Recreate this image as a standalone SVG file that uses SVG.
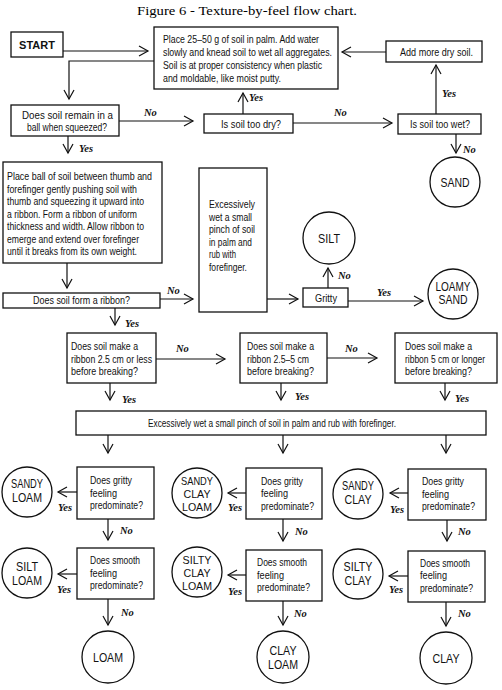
<svg xmlns="http://www.w3.org/2000/svg" width="502" height="690" viewBox="0 0 502 690">
<style>
.bx{fill:#fff;stroke:#111;stroke-width:1.3}
.ci{fill:#fff;stroke:#111;stroke-width:1.3}
.t{font-family:"Liberation Sans",Arial,sans-serif;font-size:11px;fill:#111}
.tc{font-family:"Liberation Sans",Arial,sans-serif;font-size:12.5px;fill:#111;text-anchor:middle}
.tc3{font-family:"Liberation Sans",Arial,sans-serif;font-size:11px;fill:#111;text-anchor:middle}
.yn{font-family:"Liberation Serif","Times New Roman",serif;font-size:10.5px;font-weight:bold;font-style:italic;fill:#111}
.ln{fill:none;stroke:#111;stroke-width:1.2;marker-end:url(#ah)}
.title{font-family:"Liberation Serif","Times New Roman",serif;font-size:13px;fill:#000}
</style>
<defs>
<marker id="ah" markerUnits="userSpaceOnUse" markerWidth="12" markerHeight="12" refX="10" refY="6" orient="auto">
<path d="M1,1 L10,6 L1,11" fill="none" stroke="#111" stroke-width="1.2"/>
</marker>
</defs>
<rect width="502" height="690" fill="#fff"/>
<text class="title" x="137" y="15" textLength="220" lengthAdjust="spacingAndGlyphs">Figure 6 - Texture-by-feel flow chart.</text>

<g id="connectors">
<path class="ln" d="M63,51 H148"/>
<path class="ln" d="M154,61 H69 V99"/>
<path class="ln" d="M119,121 H193"/>
<path class="ln" d="M243,114 V93"/>
<path class="ln" d="M293,123 H392"/>
<path class="ln" d="M436,114 V65"/>
<path class="ln" d="M386,52 H342"/>
<path class="ln" d="M456,134 V153"/>
<path class="ln" d="M68,136 V153"/>
<path class="ln" d="M67,263 V288"/>
<path class="ln" d="M160,299 H193"/>
<path class="ln" d="M267,299 H298"/>
<path class="ln" d="M328,288 V268"/>
<path class="ln" d="M348,301 H423"/>
<path class="ln" d="M115,308 V325"/>
<path class="ln" d="M156,359 H225"/>
<path class="ln" d="M327,358 H377"/>
<path class="ln" d="M110,383 V400"/>
<path class="ln" d="M281,383 V400"/>
<path class="ln" d="M445,383 V400"/>
<path class="ln" d="M108,435 V453"/>
<path class="ln" d="M283,435 V453"/>
<path class="ln" d="M446,435 V453"/>
<path class="ln" d="M77,492 H58"/>
<path class="ln" d="M246,493 H228"/>
<path class="ln" d="M408,493 H390"/>
<path class="ln" d="M108,519 V540"/>
<path class="ln" d="M283,519 V541"/>
<path class="ln" d="M447,520 V541"/>
<path class="ln" d="M77,574 H58"/>
<path class="ln" d="M246,575 H228"/>
<path class="ln" d="M408,576 H389"/>
<path class="ln" d="M108,599 V625"/>
<path class="ln" d="M283,601 V625"/>
<path class="ln" d="M446,602 V626"/>
<text class="yn" x="144" y="116">No</text>
<text class="yn" x="249" y="101">Yes</text>
<text class="yn" x="334" y="116">No</text>
<text class="yn" x="442" y="97">Yes</text>
<text class="yn" x="463" y="153">No</text>
<text class="yn" x="79" y="152">Yes</text>
<text class="yn" x="167" y="294">No</text>
<text class="yn" x="338" y="279">No</text>
<text class="yn" x="377" y="296">Yes</text>
<text class="yn" x="125" y="327">Yes</text>
<text class="yn" x="176" y="352">No</text>
<text class="yn" x="345" y="352">No</text>
<text class="yn" x="122" y="403">Yes</text>
<text class="yn" x="295" y="400">Yes</text>
<text class="yn" x="455" y="402">Yes</text>
<text class="yn" x="58" y="511">Yes</text>
<text class="yn" x="228" y="511">Yes</text>
<text class="yn" x="390" y="513">Yes</text>
<text class="yn" x="120" y="534">No</text>
<text class="yn" x="295" y="535">No</text>
<text class="yn" x="458" y="535">No</text>
<text class="yn" x="57" y="593">Yes</text>
<text class="yn" x="228" y="595">Yes</text>
<text class="yn" x="389" y="593">Yes</text>
<text class="yn" x="121" y="616">No</text>
<text class="yn" x="294" y="617">No</text>
<text class="yn" x="458" y="617">No</text>
</g>

<g id="start">
<rect class="bx" x="11" y="32" width="52" height="25" stroke-width="2"/>
<text class="t" x="37" y="49" text-anchor="middle" font-weight="bold" font-size="12">START</text>
</g>

<g id="place">
<rect class="bx" x="154" y="27" width="184" height="62"/>
<text class="t" x="163" y="43" textLength="156" lengthAdjust="spacingAndGlyphs">Place 25–50 g of soil in palm. Add water</text>
<text class="t" x="163" y="56" textLength="169" lengthAdjust="spacingAndGlyphs">slowly and knead soil to wet all aggregates.</text>
<text class="t" x="163" y="69" textLength="159" lengthAdjust="spacingAndGlyphs">Soil is at proper consistency when plastic</text>
<text class="t" x="163" y="82" textLength="118" lengthAdjust="spacingAndGlyphs">and moldable, like moist putty.</text>
</g>

<g id="add-dry">
<rect class="bx" x="386" y="41" width="96" height="21"/>
<text class="t" x="400" y="56" textLength="73" lengthAdjust="spacingAndGlyphs">Add more dry soil.</text>
</g>

<g id="remain-ball">
<rect class="bx" x="11" y="105" width="108" height="31"/>
<text class="t" x="22" y="119" textLength="91" lengthAdjust="spacingAndGlyphs">Does soil remain in a</text>
<text class="t" x="27" y="131" textLength="80" lengthAdjust="spacingAndGlyphs">ball when squeezed?</text>
</g>

<g id="too-dry">
<rect class="bx" x="204" y="114" width="89" height="19"/>
<text class="t" x="221" y="128" textLength="60" lengthAdjust="spacingAndGlyphs">Is soil too dry?</text>
</g>

<g id="too-wet">
<rect class="bx" x="398" y="114" width="83" height="20"/>
<text class="t" x="410" y="128" textLength="60" lengthAdjust="spacingAndGlyphs">Is soil too wet?</text>
</g>

<g id="sand">
<circle class="ci" cx="455" cy="182" r="25"/>
<text class="tc" x="455" y="187" textLength="29" lengthAdjust="spacingAndGlyphs">SAND</text>
</g>

<g id="place-ball">
<rect class="bx" x="3" y="162" width="159" height="101"/>
<text class="t" x="7" y="180" textLength="145" lengthAdjust="spacingAndGlyphs">Place ball of soil between thumb and</text>
<text class="t" x="7" y="192.5" textLength="130" lengthAdjust="spacingAndGlyphs">forefinger gently pushing soil with</text>
<text class="t" x="7" y="205" textLength="137" lengthAdjust="spacingAndGlyphs">thumb and squeezing it upward into</text>
<text class="t" x="7" y="217.5" textLength="130" lengthAdjust="spacingAndGlyphs">a ribbon. Form a ribbon of uniform</text>
<text class="t" x="7" y="230" textLength="137" lengthAdjust="spacingAndGlyphs">thickness and width. Allow ribbon to</text>
<text class="t" x="7" y="242.5" textLength="132" lengthAdjust="spacingAndGlyphs">emerge and extend over forefinger</text>
<text class="t" x="7" y="255" textLength="130" lengthAdjust="spacingAndGlyphs">until it breaks from its own weight.</text>
</g>

<g id="wet-pinch-1">
<rect class="bx" x="199" y="168" width="68" height="144"/>
<text class="t" x="209" y="208" textLength="46" lengthAdjust="spacingAndGlyphs">Excessively</text>
<text class="t" x="209" y="220.5" textLength="43" lengthAdjust="spacingAndGlyphs">wet a small</text>
<text class="t" x="209" y="233" textLength="46" lengthAdjust="spacingAndGlyphs">pinch of soil</text>
<text class="t" x="209" y="245.5" textLength="43" lengthAdjust="spacingAndGlyphs">in palm and</text>
<text class="t" x="209" y="258" textLength="27" lengthAdjust="spacingAndGlyphs">rub with</text>
<text class="t" x="209" y="270.5" textLength="38" lengthAdjust="spacingAndGlyphs">forefinger.</text>
</g>

<g id="silt">
<circle class="ci" cx="329" cy="238" r="26"/>
<text class="tc" x="329" y="243" textLength="22" lengthAdjust="spacingAndGlyphs">SILT</text>
</g>

<g id="gritty">
<rect class="bx" x="303" y="288" width="45" height="19"/>
<text class="t" x="326" y="302" text-anchor="middle" textLength="22" lengthAdjust="spacingAndGlyphs">Gritty</text>
</g>

<g id="loamy-sand">
<circle class="ci" cx="453" cy="294" r="25"/>
<text class="tc" x="453" y="291" textLength="35" lengthAdjust="spacingAndGlyphs">LOAMY</text>
<text class="tc" x="453" y="304" textLength="29" lengthAdjust="spacingAndGlyphs">SAND</text>
</g>

<g id="form-ribbon">
<rect class="bx" x="3" y="293" width="157" height="15"/>
<text class="t" x="33" y="304" textLength="97" lengthAdjust="spacingAndGlyphs">Does soil form a ribbon?</text>
</g>

<g id="ribbon-short">
<rect class="bx" x="67" y="333" width="89" height="50"/>
<text class="t" x="71" y="350" textLength="67" lengthAdjust="spacingAndGlyphs">Does soil make a</text>
<text class="t" x="71" y="363" textLength="81" lengthAdjust="spacingAndGlyphs">ribbon 2.5 cm or less</text>
<text class="t" x="71" y="375" textLength="67" lengthAdjust="spacingAndGlyphs">before breaking?</text>
</g>

<g id="ribbon-mid">
<rect class="bx" x="240" y="333" width="87" height="50"/>
<text class="t" x="247" y="350" textLength="67" lengthAdjust="spacingAndGlyphs">Does soil make a</text>
<text class="t" x="247" y="363" textLength="62" lengthAdjust="spacingAndGlyphs">ribbon 2.5–5 cm</text>
<text class="t" x="247" y="375" textLength="67" lengthAdjust="spacingAndGlyphs">before breaking?</text>
</g>

<g id="ribbon-long">
<rect class="bx" x="395" y="333" width="102" height="50"/>
<text class="t" x="405" y="350" textLength="67" lengthAdjust="spacingAndGlyphs">Does soil make a</text>
<text class="t" x="405" y="363" textLength="80" lengthAdjust="spacingAndGlyphs">ribbon 5 cm or longer</text>
<text class="t" x="405" y="375" textLength="67" lengthAdjust="spacingAndGlyphs">before breaking?</text>
</g>

<g id="wet-pinch-2">
<rect class="bx" x="76" y="411" width="410" height="24"/>
<text class="t" x="148" y="427" textLength="248" lengthAdjust="spacingAndGlyphs">Excessively wet a small pinch of soil in palm and rub with forefinger.</text>
</g>

<g id="gritty-a">
<rect class="bx" x="77" y="467" width="77" height="52"/>
<text class="t" x="90" y="484" textLength="42" lengthAdjust="spacingAndGlyphs">Does gritty</text>
<text class="t" x="90" y="497" textLength="27" lengthAdjust="spacingAndGlyphs">feeling</text>
<text class="t" x="90" y="509" textLength="53" lengthAdjust="spacingAndGlyphs">predominate?</text>
</g>
<g id="gritty-b">
<rect class="bx" x="246" y="468" width="76" height="51"/>
<text class="t" x="261" y="485" textLength="42" lengthAdjust="spacingAndGlyphs">Does gritty</text>
<text class="t" x="261" y="497" textLength="27" lengthAdjust="spacingAndGlyphs">feeling</text>
<text class="t" x="261" y="510" textLength="53" lengthAdjust="spacingAndGlyphs">predominate?</text>
</g>
<g id="gritty-c">
<rect class="bx" x="408" y="469" width="78" height="51"/>
<text class="t" x="422" y="485" textLength="42" lengthAdjust="spacingAndGlyphs">Does gritty</text>
<text class="t" x="422" y="498" textLength="27" lengthAdjust="spacingAndGlyphs">feeling</text>
<text class="t" x="422" y="510" textLength="53" lengthAdjust="spacingAndGlyphs">predominate?</text>
</g>

<g id="sandy-loam">
<circle class="ci" cx="27" cy="492" r="25"/>
<text class="tc" x="27" y="488" textLength="32" lengthAdjust="spacingAndGlyphs">SANDY</text>
<text class="tc" x="27" y="502" textLength="30" lengthAdjust="spacingAndGlyphs">LOAM</text>
</g>
<g id="sandy-clay-loam">
<circle class="ci" cx="197" cy="493" r="25"/>
<text class="tc3" x="197" y="484.5" textLength="32" lengthAdjust="spacingAndGlyphs">SANDY</text>
<text class="tc3" x="197" y="497.5" textLength="27" lengthAdjust="spacingAndGlyphs">CLAY</text>
<text class="tc3" x="197" y="510.5" textLength="30" lengthAdjust="spacingAndGlyphs">LOAM</text>
</g>
<g id="sandy-clay">
<circle class="ci" cx="358" cy="494" r="25"/>
<text class="tc" x="358" y="490" textLength="32" lengthAdjust="spacingAndGlyphs">SANDY</text>
<text class="tc" x="358" y="504" textLength="27" lengthAdjust="spacingAndGlyphs">CLAY</text>
</g>

<g id="smooth-a">
<rect class="bx" x="77" y="548" width="77" height="51"/>
<text class="t" x="90" y="564" textLength="50" lengthAdjust="spacingAndGlyphs">Does smooth</text>
<text class="t" x="90" y="577" textLength="27" lengthAdjust="spacingAndGlyphs">feeling</text>
<text class="t" x="90" y="589" textLength="53" lengthAdjust="spacingAndGlyphs">predominate?</text>
</g>
<g id="smooth-b">
<rect class="bx" x="246" y="550" width="76" height="51"/>
<text class="t" x="257" y="566" textLength="50" lengthAdjust="spacingAndGlyphs">Does smooth</text>
<text class="t" x="257" y="579" textLength="27" lengthAdjust="spacingAndGlyphs">feeling</text>
<text class="t" x="257" y="591" textLength="53" lengthAdjust="spacingAndGlyphs">predominate?</text>
</g>
<g id="smooth-c">
<rect class="bx" x="408" y="551" width="77" height="51"/>
<text class="t" x="420" y="567" textLength="50" lengthAdjust="spacingAndGlyphs">Does smooth</text>
<text class="t" x="420" y="579" textLength="27" lengthAdjust="spacingAndGlyphs">feeling</text>
<text class="t" x="420" y="592" textLength="53" lengthAdjust="spacingAndGlyphs">predominate?</text>
</g>

<g id="silt-loam">
<circle class="ci" cx="27" cy="573" r="25"/>
<text class="tc" x="27" y="571" textLength="22" lengthAdjust="spacingAndGlyphs">SILT</text>
<text class="tc" x="27" y="585" textLength="30" lengthAdjust="spacingAndGlyphs">LOAM</text>
</g>
<g id="silty-clay-loam">
<circle class="ci" cx="197" cy="572" r="25"/>
<text class="tc3" x="197" y="563.5" textLength="29" lengthAdjust="spacingAndGlyphs">SILTY</text>
<text class="tc3" x="197" y="576.5" textLength="27" lengthAdjust="spacingAndGlyphs">CLAY</text>
<text class="tc3" x="197" y="589.5" textLength="30" lengthAdjust="spacingAndGlyphs">LOAM</text>
</g>
<g id="silty-clay">
<circle class="ci" cx="358" cy="574" r="25"/>
<text class="tc" x="358" y="571" textLength="29" lengthAdjust="spacingAndGlyphs">SILTY</text>
<text class="tc" x="358" y="585" textLength="27" lengthAdjust="spacingAndGlyphs">CLAY</text>
</g>

<g id="loam">
<circle class="ci" cx="108" cy="657" r="26"/>
<text class="tc" x="108" y="662" textLength="30" lengthAdjust="spacingAndGlyphs">LOAM</text>
</g>
<g id="clay-loam">
<circle class="ci" cx="283" cy="657" r="26"/>
<text class="tc" x="283" y="655" textLength="27" lengthAdjust="spacingAndGlyphs">CLAY</text>
<text class="tc" x="283" y="669" textLength="30" lengthAdjust="spacingAndGlyphs">LOAM</text>
</g>
<g id="clay">
<circle class="ci" cx="446" cy="658" r="26"/>
<text class="tc" x="446" y="663" textLength="27" lengthAdjust="spacingAndGlyphs">CLAY</text>
</g>
</svg>
